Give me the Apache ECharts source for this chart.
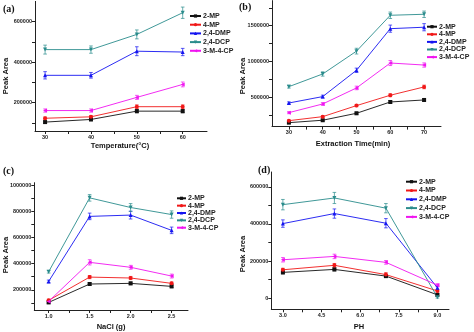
<!DOCTYPE html>
<html>
<head>
<meta charset="utf-8">
<script src="https://cdn.jsdelivr.net/npm/echarts@6/dist/echarts.min.js"></script>
<style>
  html, body { margin: 0; padding: 0; background: #fff; }
  #chart { width: 474px; height: 332px; }
</style>
</head>
<body>
<div id="chart"></div>
<script>
// Compound names and their drawing colours
const compounds = ['2-MP', '4-MP', '2,4-DMP', '2,4-DCP', '3-M-4-CP'];

// (a) Temperature (°C)
const tempX = [30, 40, 50, 60];
const tempMP2 = [104000, 117000, 158000, 158000];
const tempMP4 = [123000, 130000, 180000, 180000];
const tempDMP = [335000, 335000, 454000, 450000];
const tempDCP = [462000, 462000, 537000, 644000];
const tempMCP = [161000, 161000, 226000, 290000];
const tempErrMP2 = [6000, 6000, 8000, 8000];
const tempErrMP4 = [6000, 6000, 9000, 9000];
const tempErrDMP = [18000, 14000, 22000, 18000];
const tempErrDCP = [22000, 18000, 22000, 28000];
const tempErrMCP = [8000, 8000, 10000, 12000];

// (b) Extraction time (min)
const timeX = [30, 40, 50, 60, 70];
const timeMP2 = [145000, 179000, 276000, 434000, 462000];
const timeMP4 = [173000, 229000, 383000, 528000, 644000];
const timeDMP = [420000, 509000, 877000, 1458000, 1478000];
const timeDCP = [648000, 825000, 1144000, 1645000, 1659000];
const timeMCP = [285000, 406000, 630000, 978000, 950000];
const timeErrMP2 = [10000, 12000, 15000, 20000, 20000];
const timeErrMP4 = [10000, 12000, 15000, 20000, 25000];
const timeErrDMP = [15000, 20000, 30000, 50000, 50000];
const timeErrDCP = [20000, 30000, 40000, 45000, 45000];
const timeErrMCP = [15000, 20000, 25000, 35000, 30000];

// (c) NaCl (g)
const naclX = [1.0, 1.5, 2.0, 2.5];
const naclMP2 = [103000, 244000, 249000, 226000];
const naclMP4 = [119000, 297000, 290000, 249000];
const naclDMP = [264000, 762000, 772000, 655000];
const naclDCP = [338000, 904000, 830000, 776000];
const naclMCP = [111000, 410000, 372000, 305000];
const naclErrMP2 = [8000, 10000, 10000, 10000];
const naclErrMP4 = [8000, 12000, 12000, 10000];
const naclErrDMP = [10000, 25000, 30000, 25000];
const naclErrDCP = [10000, 25000, 30000, 28000];
const naclErrMCP = [8000, 20000, 15000, 15000];

// (d) pH
const phX = [3, 5, 7, 9];
const phMP2 = [139000, 155000, 119000, 18000];
const phMP4 = [153000, 177000, 127000, 39000];
const phDMP = [402000, 456000, 404000, 56000];
const phDCP = [504000, 540000, 485000, 5000];
const phMCP = [207000, 225000, 193000, 70000];
const phErrMP2 = [8000, 8000, 8000, 5000];
const phErrMP4 = [8000, 10000, 10000, 5000];
const phErrDMP = [20000, 25000, 25000, 10000];
const phErrDCP = [28000, 30000, 25000, 5000];
const phErrMCP = [12000, 12000, 10000, 8000];

// Tick labels
const tempTicks = [30, 40, 50, 60];
const timeTicks = [30, 40, 50, 60, 70];
const naclTicks = [1.0, 1.5, 2.0, 2.5];
const phTicks = [3.0, 4.5, 6.0, 7.5, 9.0];
const tempYTicks = [200000, 400000, 600000];
const timeYTicks = [500000, 1000000, 1500000];
const naclYTicks = [200000, 400000, 600000, 800000, 1000000];
const phYTicks = [0, 200000, 400000, 600000];

const colors = ['#111111', '#f01818', '#1414f0', '#2a8c8c', '#f014f0'];
const symbols = [
  'rect',
  'circle',
  'triangle',
  'path://M0,0L10,0L5,10Z',
  'path://M0,5L10,0L10,10Z'
];

const FONT = 'Liberation Sans, Arial, sans-serif';

const panels = [
  {
    grid: { left: 35, top: 1.4, width: 172, height: 129.6 },
    xRange: [27.8, 65.3], xTicks: tempTicks, xDigits: 0,
    yRange: [60000, 700000], yTicks: tempYTicks, yMinor: [100000, 300000, 500000],
    x: tempX,
    values: [tempMP2, tempMP4, tempDMP, tempDCP, tempMCP],
    errors: [tempErrMP2, tempErrMP4, tempErrDMP, tempErrDCP, tempErrMCP],
    legend: { left: 189, top: 12, itemWidth: 11, lineHeight: 8, gap: 0.7 }
  },
  {
    grid: { left: 272, top: 0.6, width: 169, height: 126 },
    xRange: [25, 75], xTicks: timeTicks, xDigits: 0,
    yRange: [90000, 1850000], yTicks: timeYTicks, yMinor: [250000, 750000, 1250000, 1750000],
    x: timeX,
    values: [timeMP2, timeMP4, timeDMP, timeDCP, timeMCP],
    errors: [timeErrMP2, timeErrMP4, timeErrDMP, timeErrDCP, timeErrMCP],
    legend: { left: 426, top: 23.2, itemWidth: 10, lineHeight: 7, gap: 0.6 }
  },
  {
    grid: { left: 34.3, top: 182.7, width: 153.7, height: 127.3 },
    xRange: [0.825, 2.7], xTicks: naclTicks, xDigits: 1,
    yRange: [45000, 1020000], yTicks: naclYTicks, yMinor: [100000, 300000, 500000, 700000, 900000],
    x: naclX,
    values: [naclMP2, naclMP4, naclDMP, naclDCP, naclMCP],
    errors: [naclErrMP2, naclErrMP4, naclErrDMP, naclErrDCP, naclErrMCP],
    legend: { left: 176, top: 194.8, itemWidth: 9, lineHeight: 7, gap: 0.35 }
  },
  {
    grid: { left: 271.3, top: 172, width: 177.7, height: 137.3 },
    xRange: [2.55, 9.45], xTicks: phTicks, xDigits: 1,
    yRange: [-60000, 680000], yTicks: phYTicks, yMinor: [100000, 300000, 500000],
    x: phX,
    values: [phMP2, phMP4, phDMP, phDCP, phMCP],
    errors: [phErrMP2, phErrMP4, phErrDMP, phErrDCP, phErrMCP],
    legend: { left: 405, top: 177.7, itemWidth: 11, lineHeight: 8, gap: 0.8 }
  }
];

const axisLine = { show: true, onZero: false, lineStyle: { color: '#222', width: 1 } };
const tickLabel = { margin: 3, color: '#222', fontSize: 5.5, fontWeight: 'bold', fontFamily: FONT };

const grids = [], xAxes = [], yAxes = [], series = [], legends = [];

panels.forEach((p, i) => {
  grids.push(Object.assign({ containLabel: false }, p.grid));

  const xMinor = [];
  for (let k = 0; k + 1 < p.xTicks.length; k++) xMinor.push((p.xTicks[k] + p.xTicks[k + 1]) / 2);

  xAxes.push({
    type: 'value', gridIndex: i, min: p.xRange[0], max: p.xRange[1],
    axisLine,
    axisTick: { show: true, length: 3, lineStyle: { color: '#222' }, customValues: p.xTicks.concat(xMinor) },
    axisLabel: Object.assign({
      customValues: p.xTicks,
      formatter: v => Number(v).toFixed(p.xDigits)
    }, tickLabel),
    splitLine: { show: false }
  });

  yAxes.push({
    type: 'value', gridIndex: i, min: p.yRange[0], max: p.yRange[1],
    axisLine,
    axisTick: { show: true, length: 3, lineStyle: { color: '#222' }, customValues: p.yTicks.concat(p.yMinor) },
    axisLabel: Object.assign({
      customValues: p.yTicks,
      formatter: v => String(Math.round(v))
    }, tickLabel),
    splitLine: { show: false }
  });

  p.values.forEach((vals, s) => {
    const pts = p.x.map((x, k) => [x, vals[k]]);
    series.push({
      name: compounds[s], type: 'line', xAxisIndex: i, yAxisIndex: i,
      data: pts, symbol: symbols[s], symbolSize: 4, showSymbol: true,
      lineStyle: { color: colors[s], width: 0.9 },
      itemStyle: { color: colors[s] },
      animation: false, z: 3
    });

    const errData = p.x.map((x, k) => [x, vals[k], p.errors[s][k]]);
    series.push({
      name: 'err-' + i + '-' + s, type: 'custom', xAxisIndex: i, yAxisIndex: i,
      data: errData, animation: false, z: 2, silent: true,
      renderItem: (params, api) => {
        const x = api.value(0), y = api.value(1), e = api.value(2);
        const hi = api.coord([x, y + e]);
        const lo = api.coord([x, y - e]);
        const cap = 1.8;
        const style = { stroke: colors[s], lineWidth: 0.7, fill: null };
        return {
          type: 'group',
          children: [
            { type: 'line', shape: { x1: hi[0], y1: hi[1], x2: lo[0], y2: lo[1] }, style },
            { type: 'line', shape: { x1: hi[0] - cap, y1: hi[1], x2: hi[0] + cap, y2: hi[1] }, style },
            { type: 'line', shape: { x1: lo[0] - cap, y1: lo[1], x2: lo[0] + cap, y2: lo[1] }, style }
          ]
        };
      }
    });
  });

  legends.push({
    data: compounds, orient: 'vertical', left: p.legend.left, top: p.legend.top,
    itemWidth: p.legend.itemWidth, itemHeight: 4, itemGap: p.legend.gap, padding: 0,
    selectedMode: false,
    textStyle: { fontSize: 7, fontWeight: 'bold', color: '#222', fontFamily: FONT, lineHeight: p.legend.lineHeight, padding: [0, 0, 0, -3] }
  });
});

// Axis titles and panel letters
const texts = [
  { t: '(a)', x: 3, y: 9, serif: true },
  { t: '(b)', x: 239, y: 7, serif: true },
  { t: '(c)', x: 3, y: 171, serif: true },
  { t: '(d)', x: 258, y: 170, serif: true },
  { t: 'Temperature(°C)', x: 120, y: 146, center: true },
  { t: 'Extraction Time(min)', x: 353, y: 144, center: true },
  { t: 'NaCl (g)', x: 111, y: 327, center: true },
  { t: 'PH', x: 359, y: 327, center: true },
  { t: 'Peak Area', x: 6, y: 76, rotate: true },
  { t: 'Peak Area', x: 243, y: 76, rotate: true },
  { t: 'Peak Area', x: 6, y: 255, rotate: true },
  { t: 'Peak Area', x: 243, y: 254, rotate: true }
];

const graphic = texts.map(o => ({
  type: 'text',
  x: o.x, y: o.y,
  rotation: o.rotate ? Math.PI / 2 : 0,
  style: {
    text: o.t,
    fill: '#111',
    font: o.serif ? 'bold 10px "Liberation Serif", "Times New Roman", serif' : 'bold 7.5px ' + FONT,
    align: (o.center || o.rotate) ? 'center' : 'left',
    verticalAlign: 'middle'
  },
  z: 10
}));

const chart = echarts.init(document.getElementById('chart'), null, { renderer: 'canvas' });
chart.setOption({
  backgroundColor: '#fff',
  animation: false,
  grid: grids,
  xAxis: xAxes,
  yAxis: yAxes,
  legend: legends,
  series,
  graphic
});
</script>
</body>
</html>
